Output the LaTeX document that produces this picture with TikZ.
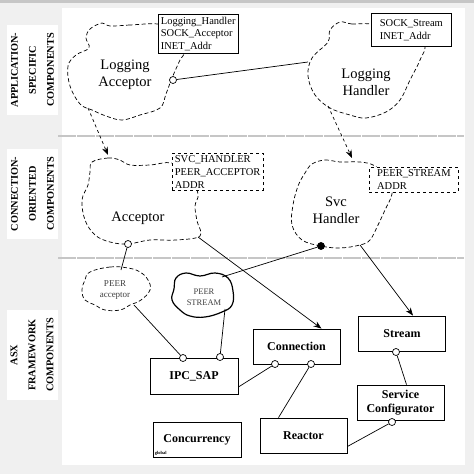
\documentclass[tikz,border=0pt]{standalone}
\usepackage{fontspec}
\setmainfont{Liberation Serif}
\usetikzlibrary{arrows.meta}

\tikzset{
	cloudline/.style={draw=black, line width=0.7pt, dash pattern=on 4pt off 2.5pt},
	infobox/.style={draw=black, fill=white, line width=0.8pt, align=left, anchor=north west,
		inner sep=2.5pt, font=\fontsize{10.5}{12.6}\selectfont},
	comp/.style={draw=black, fill=white, line width=0.8pt, minimum width=87pt, minimum height=35pt,
		align=center, font=\fontsize{12}{14}\selectfont\bfseries},
	cloudtext/.style={align=center, font=\fontsize{14.5}{17}\selectfont},
	lolli/.style={circle, draw=black, fill=white, line width=0.7pt, inner sep=0pt, minimum size=7pt},
	layer/.style={fill=white, minimum width=90pt, minimum height=51pt, rotate=90, align=center,
		font=\fontsize{10.3}{18}\selectfont\bfseries},
	sep/.style={draw=gray!45, line width=1.6pt, dash pattern=on 18pt off 1pt},
	tip/.style={-{Stealth[length=8pt, width=6pt]}}
}

\begin{document}
\begin{tikzpicture}[x=1pt,y=-1pt]
	\useasboundingbox (0,0) rectangle (474,474);
	\fill[gray!12] (0,0) rectangle (474,474);
	\fill[gray!45] (0,0) rectangle (474,2.5);
	\fill[white] (62,8) rectangle (465,465);
	
	% layer names
	\draw (32.5,70) node[layer] (apps) {APPLICATION-\\SPECIFIC\\COMPONENTS};
	\draw (32.5,194) node[layer] (conn) {CONNECTION-\\ORIENTED\\COMPONENTS};
	\draw (32,355) node[layer] (asx) {ASX\\FRAMEWORK\\COMPONENTS};
	
	\draw[sep] (58,136) -- (464,136);
	\draw[sep] (58,258) -- (464,258);
	
	% clouds
	\draw[cloudline] plot[smooth cycle, tension=0.6] coordinates {
		(158,24) (130,25) (110,26) (102,23) (90,29) (86,38) (89,48) (76,55) (68,66) (70,86)
		(80,104) (92,110) (106,116) (122,120) (140,115) (160,108) (166,94) (172,78) (180,60) (184,52) (180,30)};
	\draw[cloudline] plot[smooth cycle, tension=0.6] coordinates {
		(371,24) (352,24) (340,22) (330,30) (328,42) (312,58) (308,76) (315,95) (330,108)
		(350,115) (366,118) (386,112) (400,100) (410,80) (420,60) (424,44) (400,30)};
	\draw[cloudline] plot[smooth cycle, tension=0.6] coordinates {
		(92,162) (108,158) (120,160) (130,165) (150,165) (172,163) (190,175) (198,194)
		(195,206) (197,221) (200,236) (176,240) (150,240) (128,244) (110,242) (95,235)
		(85,220) (82,200) (88,185) (90,172)};
	\draw[cloudline] plot[smooth cycle, tension=0.6] coordinates {
		(312,164) (325,160) (340,162) (360,162) (375,166) (390,180) (392,194) (385,210)
		(378,225) (370,240) (360,245) (340,248) (321,246) (302,240) (292,225) (293,205)
		(298,186) (305,173)};
	\draw[cloudline] plot[smooth cycle, tension=0.7] coordinates {
		(90,272) (110,267) (128,268) (140,272) (148,280) (150,290) (141,300) (130,305)
		(120,310) (105,310) (95,305) (85,300) (82,290) (85,280)};
	\draw[line width=1.2pt] plot[smooth cycle, tension=0.7] coordinates {
		(176,278) (186,273) (200,276) (215,273) (228,278) (233,291) (232,305) (222,312)
		(205,317) (190,316) (180,310) (172,300) (174,289)};
	
	\draw (125,75) node[cloudtext] (logacc) {Logging\\Acceptor};
	\draw (366,82) node[cloudtext] (loghand) {Logging\\Handler};
	\draw (138,218) node[cloudtext] (acc) {Acceptor};
	\draw (336,210) node[cloudtext] (svc) {Svc\\Handler};
	\draw (115,290) node[align=center, text=black!75, font=\fontsize{9}{11}\selectfont] (peeracc) {PEER\\acceptor};
	\draw (204,297) node[align=center, text=black!75, font=\fontsize{8.5}{11}\selectfont] (peerstr) {PEER\\STREAM};
	
	% parameter boxes
	\draw (158,14) node[infobox] (logparm) {Logging\_Handler\\SOCK\_Acceptor\\INET\_Addr};
	\draw (371,13) node[infobox, minimum width=80pt, minimum height=33pt] (handparm) {SOCK\_Stream\\INET\_Addr};
	\draw (172,153) node[infobox, dashed] (accparm) {SVC\_HANDLER\\PEER\_ACCEPTOR\\ADDR};
	\draw (369,167) node[infobox, dashed, minimum width=89pt] (svcparm) {PEER\_STREAM\\ADDR};
	
	% framework components
	\draw (194,376) node[comp, minimum width=88pt, minimum height=36pt] (ipc) {IPC\_SAP};
	\draw (296.5,346.5) node[comp] (connection) {Connection};
	\draw (402,333.5) node[comp] (stream) {Stream};
	\draw (400.5,402.5) node[comp] (config) {Service\\Configurator};
	\draw (303.5,435.5) node[comp] (reactor) {Reactor};
	\draw (197,439.5) node[comp, minimum width=88pt] (concur) {Concurrency};
	\draw (concur.south west) node[anchor=south west, inner sep=2pt, font=\fontsize{4.5}{5}\selectfont\bfseries] (glob) {global};
	
	% end points on the clouds
	\coordinate (lhedge) at (308,62);
	\coordinate (ladown) at (88,108);
	\coordinate (acctop) at (108,155);
	\coordinate (lhdown) at (328,106);
	\coordinate (svctop) at (352,158);
	\coordinate (accright) at (198,237);
	\coordinate (svcbottom) at (360,245);
	\coordinate (patop) at (121,270);
	\coordinate (pabottom) at (134,305);
	\coordinate (pstop) at (222,277);
	\coordinate (psbottom) at (225,309);
	
	\draw (173,80) node[lolli] (lacirc) {};
	\draw (128,244) node[lolli] (acccirc) {};
	\draw (321,246) node[lolli, fill=black] (svcdot) {};
	\draw (183,358) node[lolli] (ipcone) {};
	\draw (220,357) node[lolli] (ipctwo) {};
	\draw (275,364) node[lolli] (connone) {};
	\draw (311,364) node[lolli] (conntwo) {};
	\draw (396,352) node[lolli] (strcirc) {};
	\draw (392,422) node[lolli] (cfgcirc) {};
	
	\draw[line width=0.7pt] (lacirc) -- (lhedge);
	\draw[line width=0.7pt, dashed, tip] (ladown) -- (acctop);
	\draw[line width=0.7pt, dashed, tip] (lhdown) -- (svctop);
	\draw[line width=0.7pt] (acccirc) -- (patop);
	\draw[line width=0.7pt] (svcdot) -- (pstop);
	\draw[line width=0.7pt, tip] (accright) -- ([xshift=25pt]connection.north);
	\draw[line width=0.7pt, tip] (svcbottom) -- ([xshift=11pt]stream.north);
	\draw[line width=0.7pt] (pabottom) -- (ipcone);
	\draw[line width=0.7pt] (psbottom) -- (ipctwo);
	\draw[line width=0.7pt] ([yshift=-11pt]ipc.east) -- (connone);
	\draw[line width=0.7pt] (conntwo) -- ([xshift=-25pt]reactor.north);
	\draw[line width=0.7pt] (strcirc) -- ([xshift=6pt]config.north);
	\draw[line width=0.7pt] ([yshift=-11pt]reactor.east) -- (cfgcirc);
\end{tikzpicture}
\end{document}
